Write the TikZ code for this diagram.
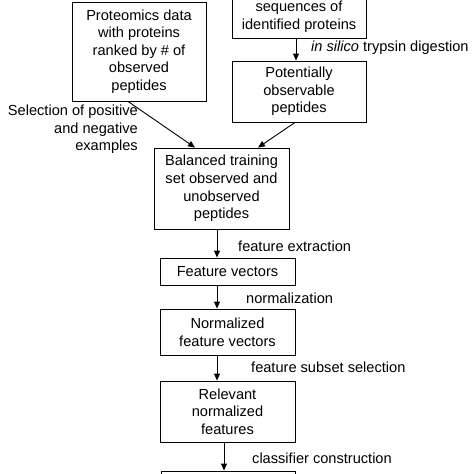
\documentclass[tikz,border=0pt]{standalone}
\usepackage{fontspec}
\setmainfont{Liberation Sans}
\usepackage{tikz}
\usetikzlibrary{arrows.meta}

\tikzset{box/.style={draw,line width=0.9pt,align=center,inner sep=0pt},
  lbl/.style={inner sep=0pt},
  flow/.style={-{Triangle[length=7pt,width=6pt]},line width=0.9pt}}

\begin{document}
\begin{tikzpicture}[x=1pt,y=-1pt,font=\fontsize{14.6}{17.6}\selectfont]
  \useasboundingbox (0,0) rectangle (474,474);
  \clip (0,0) rectangle (474,474);

   \draw (299,16.5) node[box,minimum width=134pt,minimum height=43pt] (seqs) {sequences of\\identified proteins};
  \draw (139,51.5) node[box,minimum width=134pt,minimum height=99pt] (prot) {Proteomics data\\with proteins\\ranked by \# of\\observed\\peptides};
      \draw (299,91.5) node[box,minimum width=134pt,minimum height=61pt] (pot) {Potentially\\observable\\peptides};
      \draw (221.5,188.5) node[box,minimum width=135pt,minimum height=81pt] (bal) {Balanced training\\set observed and\\unobserved\\peptides};
	    \draw (227.5,271.5) node[box,minimum width=135pt,minimum height=27pt] (fv) {Feature vectors};
	    \draw (227.5,332) node[box,minimum width=135pt,minimum height=46pt] (nfv) {Normalized\\feature vectors};
		\draw (227.5,411.5) node[box,minimum width=135pt,minimum height=61pt] (rel) {Relevant\\normalized\\features};
		\draw (228,491) node[box,minimum width=134pt,minimum height=40pt] (clf) {};

		\draw (311,48) node[lbl,anchor=west] (digest) {\textit{in silico} trypsin digestion};
		\draw (138,129.5) node[lbl,anchor=east,align=right] (select) {Selection of positive\\and negative\\examples};
		\draw (238,246) node[lbl,anchor=west] (extract) {feature extraction};
		\draw (246,298) node[lbl,anchor=west] (norm) {normalization};
		\draw (251,367) node[lbl,anchor=west] (subset) {feature subset selection};
		\draw (252,458) node[lbl,anchor=west] (construct) {classifier construction};

    \path[flow] ([xshift=-3pt]seqs.south) edge ([xshift=-3pt]pot.north);
    \path[flow] ([xshift=-11pt]prot.south) edge ([xshift=-26.5pt]bal.north);
    \path[flow] ([xshift=-4pt]pot.south) edge ([xshift=36.5pt]bal.north);
    \path[flow] ([xshift=-4.5pt]bal.south) edge ([xshift=-10.5pt]fv.north);
    \path[flow] ([xshift=-10.5pt]fv.south) edge ([xshift=-10.5pt]nfv.north);
    \path[flow] ([xshift=-10.5pt]nfv.south) edge ([xshift=-10.5pt]rel.north);
    \path[flow] ([xshift=-3.5pt]rel.south) edge ([xshift=-4pt]clf.north);

\end{tikzpicture}
\end{document}
